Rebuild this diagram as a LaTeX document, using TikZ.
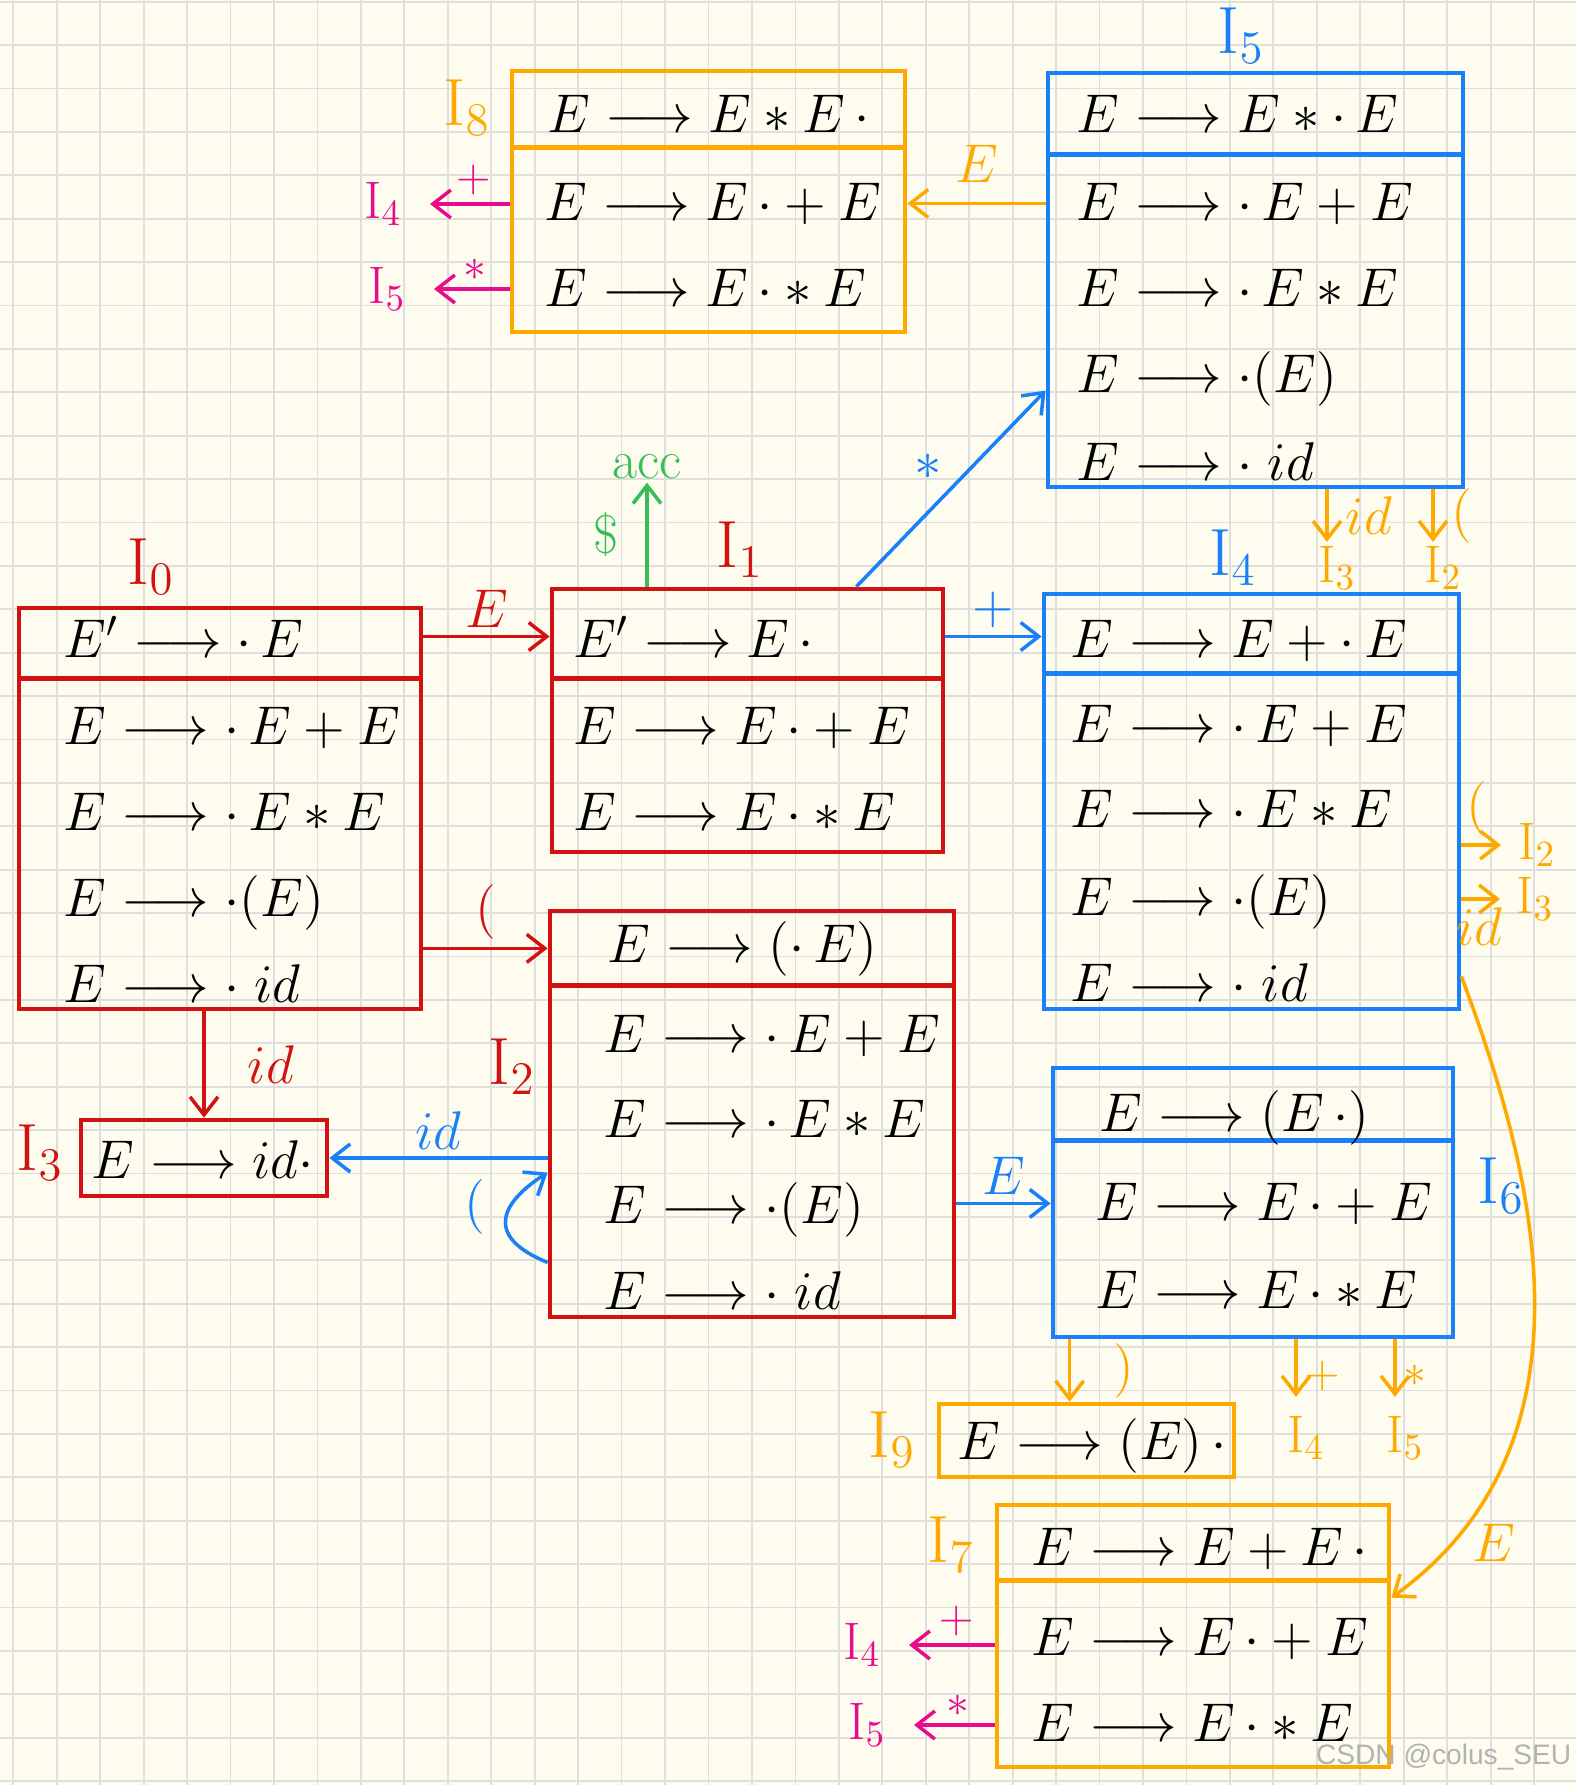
\RequirePackage{fix-cm}
\documentclass[tikz,border=0pt]{standalone}
\usepackage{fontspec}
\newfontfamily\wmfont{Liberation Sans}
\usetikzlibrary{arrows.meta,positioning,calc}
\definecolor{paper}{RGB}{253,252,238}
\definecolor{gridgray}{RGB}{222,222,222}
\definecolor{stred}{RGB}{210,18,18}
\definecolor{stblue}{RGB}{26,128,250}
\definecolor{storange}{RGB}{255,168,0}
\definecolor{stpink}{RGB}{232,12,140}
\definecolor{stgreen}{RGB}{54,190,86}
\newcommand{\itemfont}{\fontsize{15.5}{19}\selectfont}
\newcommand{\namefont}{\fontsize{19}{23}\selectfont}
\newcommand{\gofont}{\fontsize{15}{18}\selectfont}
\newcommand{\smallfont}{\fontsize{13}{15}\selectfont}
\newcommand{\dt}{\mathord{\cdot}}
\newcommand{\stname}[1]{$\mathrm{I}_{#1}$}
\newcommand{\stdown}[1]{$\mathrm{I}\rlap{$_{#1}$}$}

\begin{document}
\begin{tikzpicture}[x=0.01cm, y=-0.01cm,
    stbox/.style={draw, line width=1.3pt, inner sep=0pt},
    itm/.style={anchor=base west, inner sep=0pt, font=\itemfont},
    sname/.style={font=\namefont, inner sep=1pt},
    gonode/.style={font=\gofont, inner sep=1pt},
    arr/.style={-{Straight Barb[length=1.8mm, width=2.8mm]}, line width=1pt},
    lab/.style={font=\itemfont, midway, inner sep=2pt},
    slab/.style={font=\smallfont, midway, inner sep=2pt}
]
    % Paper
    \useasboundingbox (0,0) rectangle (1576,1785);
    \fill[paper] (0,0) rectangle (1576,1785);
    \foreach \k in {0,...,36}
        \draw[gridgray, line width=0.5pt] ({13.3+43.45*\k},0) -- ({13.3+43.45*\k},1785);
    \foreach \k in {0,...,41}
        \draw[gridgray, line width=0.5pt] (0,{1.7+43.4*\k}) -- (1576,{1.7+43.4*\k});

    % I8
    \node[stbox, draw=storange, minimum width=3.93cm, minimum height=2.61cm] (I8) at (708.5,201.5) {};
    \draw[storange, line width=1.3pt] ($(I8.north west)+(0,79)$) -- ($(I8.north east)+(0,79)$);
    \node[sname, storange] (n8) at (467,108) {\stname{8}};
    \node[itm] (h8) at (547,133) {$E \longrightarrow E * E\,\dt$};
    \node[itm] (r8a) at (544,220) {$E \longrightarrow E\,\dt + E$};
    \node[itm] (r8b) at (544,307) {$E \longrightarrow E\,\dt * E$};

    % I5
    \node[stbox, draw=stblue, minimum width=4.15cm, minimum height=4.14cm] (I5) at (1255.5,280) {};
    \draw[stblue, line width=1.3pt] ($(I5.north west)+(0,84)$) -- ($(I5.north east)+(0,84)$);
    \node[sname, stblue] (n5) at (1241,36) {\stname{5}};
    \node[itm] (h5) at (1076,133) {$E \longrightarrow E * \dt\, E$};
    \node[itm] (r5a) at (1076,220) {$E \longrightarrow \dt\, E + E$};
    \node[itm] (r5b) at (1076,307) {$E \longrightarrow \dt\, E * E$};
    \node[itm] (r5c) at (1076,392) {$E \longrightarrow \dt(E)$};
    \node[itm] (r5d) at (1076,480) {$E \longrightarrow \dt\; id$};

    % I0
    \node[stbox, draw=stred, minimum width=4.02cm, minimum height=4.01cm] (I0) at (220,808.5) {};
    \draw[stred, line width=1.3pt] ($(I0.north west)+(0,73)$) -- ($(I0.north east)+(0,73)$);
    \node[sname, stred] (n0) at (151,567) {\stname{0}};
    \node[itm] (h0) at (63,657) {$E' \longrightarrow \dt\, E$};
    \node[itm] (r0a) at (63,744) {$E \longrightarrow \dt\, E + E$};
    \node[itm] (r0b) at (63,830) {$E \longrightarrow \dt\, E * E$};
    \node[itm] (r0c) at (63,916) {$E \longrightarrow \dt(E)$};
    \node[itm] (r0d) at (63,1002) {$E \longrightarrow \dt\; id$};

    % I1
    \node[stbox, draw=stred, minimum width=3.91cm, minimum height=2.63cm] (I1) at (747.5,720.5) {};
    \draw[stred, line width=1.3pt] ($(I1.north west)+(0,92)$) -- ($(I1.north east)+(0,92)$);
    \node[sname, stred] (n1) at (740,550) {\stname{1}};
    \node[itm] (h1) at (573,657) {$E' \longrightarrow E\,\dt$};
    \node[itm] (r1a) at (573,744) {$E \longrightarrow E\,\dt + E$};
    \node[itm] (r1b) at (573,830) {$E \longrightarrow E\,\dt * E$};

    % I4
    \node[stbox, draw=stblue, minimum width=4.15cm, minimum height=4.15cm] (I4) at (1251.5,801.5) {};
    \draw[stblue, line width=1.3pt] ($(I4.north west)+(0,82)$) -- ($(I4.north east)+(0,82)$);
    \node[sname, stblue] (n4) at (1233,558) {\stname{4}};
    \node[itm] (h4) at (1070,657) {$E \longrightarrow E + \dt\, E$};
    \node[itm] (r4a) at (1070,742) {$E \longrightarrow \dt\, E + E$};
    \node[itm] (r4b) at (1070,827) {$E \longrightarrow \dt\, E * E$};
    \node[itm] (r4c) at (1070,915) {$E \longrightarrow \dt(E)$};
    \node[itm] (r4d) at (1070,1001) {$E \longrightarrow \dt\; id$};

    % I2
    \node[stbox, draw=stred, minimum width=4.04cm, minimum height=4.06cm] (I2) at (752,1114) {};
    \draw[stred, line width=1.3pt] ($(I2.north west)+(0,77)$) -- ($(I2.north east)+(0,77)$);
    \node[sname, stred] (n2) at (512,1067) {\stname{2}};
    \node[itm] (h2) at (607,962) {$E \longrightarrow (\dt\, E)$};
    \node[itm] (r2a) at (603,1052) {$E \longrightarrow \dt\, E + E$};
    \node[itm] (r2b) at (603,1137) {$E \longrightarrow \dt\, E * E$};
    \node[itm] (r2c) at (603,1223) {$E \longrightarrow \dt(E)$};
    \node[itm] (r2d) at (603,1309) {$E \longrightarrow \dt\; id$};

    % I3
    \node[stbox, draw=stred, minimum width=2.46cm, minimum height=0.76cm] (I3) at (204,1158) {};
    \node[sname, stred] (n3) at (40,1153) {\stname{3}};
    \node[itm] (h3) at (91,1178) {$E \longrightarrow id\dt$};

    % I6
    \node[stbox, draw=stblue, minimum width=4.00cm, minimum height=2.69cm] (I6) at (1253,1202.5) {};
    \draw[stblue, line width=1.3pt] ($(I6.north west)+(0,75)$) -- ($(I6.north east)+(0,75)$);
    \node[sname, stblue] (n6) at (1501,1186) {\stname{6}};
    \node[itm] (h6) at (1099,1131) {$E \longrightarrow (E\,\dt)$};
    \node[itm] (r6a) at (1095,1220) {$E \longrightarrow E\,\dt + E$};
    \node[itm] (r6b) at (1095,1308) {$E \longrightarrow E\,\dt * E$};

    % I9
    \node[stbox, draw=storange, minimum width=2.95cm, minimum height=0.73cm] (I9) at (1086.5,1440.5) {};
    \node[sname, storange] (n9) at (892,1440) {\stname{9}};
    \node[itm] (h9) at (957,1459) {$E \longrightarrow (E)\,\dt$};

    % I7
    \node[stbox, draw=storange, minimum width=3.92cm, minimum height=2.62cm] (I7) at (1193,1636) {};
    \draw[storange, line width=1.3pt] ($(I7.north west)+(0,78)$) -- ($(I7.north east)+(0,78)$);
    \node[sname, storange] (n7) at (951,1545) {\stname{7}};
    \node[itm] (h7) at (1031,1565) {$E \longrightarrow E + E\,\dt$};
    \node[itm] (r7a) at (1031,1655) {$E \longrightarrow E\,\dt + E$};
    \node[itm] (r7b) at (1031,1741) {$E \longrightarrow E\,\dt * E$};

    % Goto targets written beside the states
    \node[gonode, stpink] (g84) at (383,204) {\stname{4}};
    \node[gonode, stpink] (g85) at (387,289) {\stname{5}};
    \node[gonode, storange] (g53) at (1327,568) {\stdown{3}};
    \node[gonode, storange] (g52) at (1433,568) {\stdown{2}};
    \node[gonode, storange] (g42) at (1537,845) {\stname{2}};
    \node[gonode, storange] (g43) at (1535,899) {\stname{3}};
    \node[gonode, storange] (g64) at (1296,1438) {\stdown{4}};
    \node[gonode, storange] (g65) at (1395,1438) {\stdown{5}};
    \node[gonode, stpink] (g74) at (862,1645) {\stname{4}};
    \node[gonode, stpink] (g75) at (867,1725) {\stname{5}};

    % Red transitions
    \draw[arr, stred] (I0.east |- h1) -- (h1 -| I1.west) node[lab, above] {$E$};
    \draw[arr, stred] (I0.east |- h2) -- (h2 -| I2.west) node[lab, above] {$($};
    \draw[arr, stred] (I0.south -| I3.north) -- (I3.north) node[lab, right=0.35cm] {$id$};

    % Blue transitions
    \draw[arr, stblue] (I2.west |- I3) -- (I3.east) node[lab, above] {$id$};
    \draw[arr, stblue] ($(I2.south west)+(0,-57)$) .. controls (480,1235) and (505,1200) .. ($(I2.north west)+(0,264)$);
    \node[font=\itemfont, stblue] (lp) at (475,1207) {$($};
    \draw[arr, stblue] ($(I1.north east)+(-89,0)$) -- ($(I5.north west)+(0,320)$) node[lab, above left] {$*$};
    \draw[arr, stblue] (h1 -| I1.east) -- (h1 -| I4.west) node[lab, above] {$+$};
    \draw[arr, stblue] (r6a -| I2.east) -- (r6a -| I6.west) node[lab, above] {$E$};

    % Accept
    \node[font=\itemfont, stgreen, anchor=base, inner sep=1pt] (acc) at (647,478) {acc};
    \draw[arr, stgreen] (I1.north -| acc) -- (acc.south) node[lab, left=0.2cm] {\$};

    % Orange transitions
    \draw[arr, storange] (r8a -| I5.west) -- (r8a -| I8.east) node[lab, above=0.12cm] {$E$};
    \draw[arr, storange] (I5.south -| g53) -- (g53.north) node[lab, right=0.1cm] {$id$};
    \draw[arr, storange] (I5.south -| g52) -- (g52.north) node[lab, right=0.1cm] {$($};
    \draw[arr, storange, shorten >=1.3mm] (I4.east |- g42) -- (g42.west) node[lab, above, pos=0.3] {$($};
    \draw[arr, storange, shorten >=1.2mm] (I4.east |- g43) -- (g43.west) node[lab, below, pos=0.35] {$id$};
    \draw[arr, storange] ($(I4.south east)+(0,-35)$) .. controls (1530,1160) and (1610,1440) .. ($(I7.north east)+(0,95)$);
    \node[font=\itemfont, storange] (lE7) at (1494,1543) {$E$};
    \coordinate (d9) at ($(I6.south west)+(19,0)$);
    \draw[arr, storange] (d9) -- (d9 |- I9.north) node[lab, right=0.35cm] {$)$};
    \draw[arr, storange, shorten >=1.5mm] (I6.south -| g64) -- (g64.north) node[slab, right] {$+$};
    \draw[arr, storange, shorten >=1.5mm] (I6.south -| g65) -- (g65.north) node[slab, right] {$*$};

    % Pink transitions
    \draw[arr, stpink, shorten >=2.4mm] (g84 -| I8.west) -- (g84.east) node[slab, above, pos=0.35] {$+$};
    \draw[arr, stpink, shorten >=2.4mm] (g85 -| I8.west) -- (g85.east) node[slab, above, pos=0.35] {$*$};
    \draw[arr, stpink, shorten >=2.4mm] (g74 -| I7.west) -- (g74.east) node[slab, above, pos=0.35] {$+$};
    \draw[arr, stpink, shorten >=2.4mm] (g75 -| I7.west) -- (g75.east) node[slab, above, pos=0.35] {$*$};

    % Watermark
    \node[font=\wmfont\fontsize{8}{10}\selectfont, text=gray!60, anchor=east, inner sep=0pt] (wm) at (1572,1757) {CSDN @colus\_SEU};
\end{tikzpicture}
\end{document}
